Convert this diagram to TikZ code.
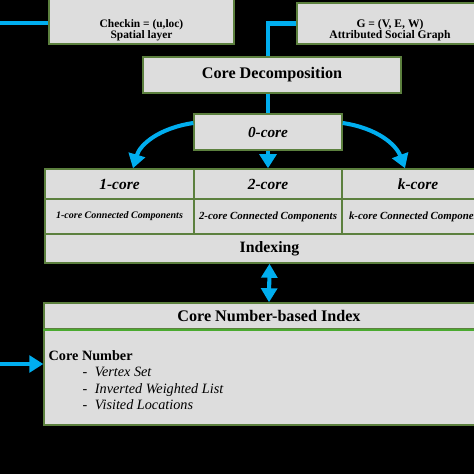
\documentclass[tikz,border=0pt]{standalone}
\usepackage{fontspec}
\setmainfont{Liberation Serif}
\usepackage{xcolor}
\usetikzlibrary{arrows.meta,calc}
\definecolor{boxfill}{RGB}{221,221,221}
\definecolor{boxedge}{RGB}{92,128,62}
\definecolor{sepgreen}{RGB}{74,170,48}
\definecolor{linkblue}{RGB}{0,174,239}

\tikzset{
  box/.style={draw=boxedge, fill=boxfill, line width=0.8pt, inner sep=0pt, align=center},
  link/.style={draw=linkblue, line width=2.3pt},
}

\begin{document}
\begin{tikzpicture}[x=0.02cm, y=-0.02cm, >={Triangle[length=8pt, width=9.5pt]}]

% Background
\useasboundingbox (0,0) rectangle (474,474);
\fill[black] (0,0) rectangle (474,474);
\clip (0,0) rectangle (474,474);

% Input layers
\node[box, minimum width=3.7cm, minimum height=0.92cm] (checkin) at (141.5,21) {};
\node[align=center, inner sep=0pt, font=\fontsize{6.5}{6.1}\selectfont\bfseries] (checkintxt) at (141.5,30) {Checkin = (u,loc)\\Spatial layer};
\node[box, minimum width=3.72cm, minimum height=0.82cm] (graph) at (390,23.5) {};
\node[align=center, inner sep=0pt, font=\fontsize{6.6}{6.1}\selectfont\bfseries] (graphtxt) at (390,30) {G = (V, E, W)\\Attributed Social Graph};

% Core Decomposition & 0-core
\node[box, minimum width=5.16cm, minimum height=0.72cm, font=\fontsize{9.2}{11}\selectfont\bfseries] (core) at (272,75) {Core Decomposition};
\node[box, minimum width=2.96cm, minimum height=0.72cm, font=\fontsize{8.7}{10}\selectfont\bfseries\itshape] (zero) at (268,132) {0-core};

% k-core table
\node[box, minimum width=2.98cm, minimum height=0.6cm, font=\fontsize{8.8}{10}\selectfont\bfseries\itshape] (c1head) at (119.5,184) {1-core};
\node[box, minimum width=2.96cm, minimum height=0.6cm, font=\fontsize{8.8}{10}\selectfont\bfseries\itshape] (c2head) at (268,184) {2-core};
\node[box, minimum width=3.04cm, minimum height=0.6cm, font=\fontsize{8.8}{10}\selectfont\bfseries\itshape] (c3head) at (418,184) {k-core};
\node[box, minimum width=2.98cm, minimum height=0.7cm, font=\fontsize{5.7}{7}\selectfont\bfseries\itshape] (c1comp) at (119.5,216.5) {1-core Connected Components};
\node[box, minimum width=2.96cm, minimum height=0.7cm, font=\fontsize{6.2}{7}\selectfont\bfseries\itshape] (c2comp) at (268,216.5) {2-core Connected Components};
\node[box, minimum width=3.04cm, minimum height=0.7cm, font=\fontsize{6.2}{7}\selectfont\bfseries\itshape] (c3comp) at (418,216.5) {k-core Connected Components};
\node[box, minimum width=8.98cm, minimum height=0.58cm, font=\fontsize{9}{10}\selectfont\bfseries] (indexing) at (269.5,248.5) {Indexing};

% Core Number-based Index
\node[box, minimum width=9cm, minimum height=0.52cm, font=\fontsize{9.2}{11}\selectfont\bfseries] (idxhead) at (269,316) {Core Number-based Index};
\node[box, minimum width=9cm, minimum height=1.92cm] (idxbody) at (269,377) {};
\node[anchor=west, inner xsep=0.1cm, inner ysep=0pt, align=left, font=\fontsize{8.1}{9.4}\selectfont] (idxtext) at ([yshift=-0.06cm]idxbody.west) {%
  \textbf{Core Number}\\
  \hspace*{0.68cm}-\hspace*{0.15cm}\textit{Vertex Set}\\
  \hspace*{0.68cm}-\hspace*{0.15cm}\textit{Inverted Weighted List}\\
  \hspace*{0.68cm}-\hspace*{0.15cm}\textit{Visited Locations}};
\draw[sepgreen, line width=1.1pt] (idxhead.south west) -- (idxhead.south east);

% Connectors
\coordinate (leftin) at (0,23);
\coordinate (leftidx) at (0,364);
\draw[link] (leftin) -- (leftin -| checkin.west);
\draw[link] (graph.west) -| (core.north -| zero.north);
\draw[link] (core.south -| zero.north) -- (zero.north);
\draw[link, ->] (zero.south) -- (c2head.north);
\draw[link, ->] ([yshift=0.18cm]zero.west) .. controls +(-34,5) and +(7,-24) .. ([xshift=0.27cm]c1head.north);
\draw[link, ->] ([yshift=0.18cm]zero.east) .. controls +(34,5) and +(-9,-24) .. ([xshift=-0.26cm]c3head.north);
\draw[link, {Triangle[length=8pt, width=9pt]}-{Triangle[length=8pt, width=9pt]}] (indexing.south) -- (idxhead.north);
\draw[link, ->] (leftidx) -- (leftidx -| idxbody.west);

\end{tikzpicture}
\end{document}
